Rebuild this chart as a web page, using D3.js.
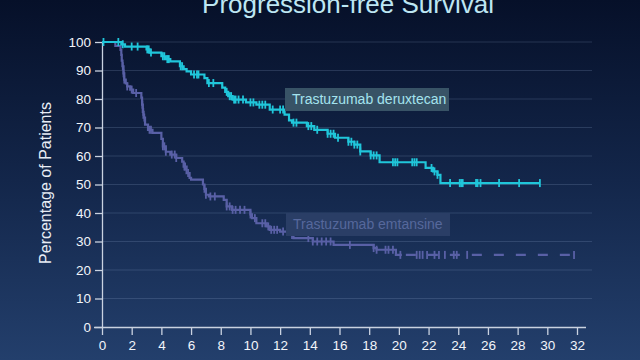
<!DOCTYPE html>
<html>
<head>
<meta charset="utf-8">
<script src="https://cdn.jsdelivr.net/npm/d3@7"></script>
<style>
  html, body { margin: 0; padding: 0; background: #0a1731; }
  svg { display: block; font-family: "Liberation Sans", Arial, Helvetica, sans-serif; }
</style>
</head>
<body>
<div id="chart"></div>
<script>
// Kaplan-Meier steps: [months, % without progression]
const deruxtecanSteps = [
  [0, 100], [1.3, 99.2], [1.55, 98.4], [3.0, 97.4], [3.2, 96.3], [4.0, 95.0], [4.3, 94.0],
  [4.6, 93.2], [5.25, 91.5], [5.5, 90.5], [5.7, 89.7], [6.0, 88.6], [6.9, 87.3], [7.1, 85.6],
  [8.1, 84.0], [8.3, 82.5], [8.5, 81.0], [8.8, 79.8], [9.7, 78.8], [10.4, 78.0], [11.3, 76.3],
  [12.3, 74.5], [12.6, 72.5], [12.8, 71.7], [13.8, 70.5], [14.3, 69.2], [15.2, 67.8],
  [15.7, 66.4], [16.6, 65.0], [17.0, 64.0], [17.4, 61.6], [18.1, 60.2], [18.7, 57.8],
  [21.8, 55.8], [22.3, 54.6], [22.6, 53.4], [22.8, 50.5], [29.5, 50.5]
];
const deruxtecanCensored = [
  0.1, 1.1, 1.4, 2.0, 2.4, 3.05, 3.15, 3.3, 4.1, 4.2, 4.4, 4.5, 5.3, 5.4, 6.2, 6.4, 6.5,
  7.2, 7.5, 8.4, 8.6, 8.7, 8.9, 9.0, 9.2, 9.5, 10.0, 10.2, 10.6, 10.8, 11.0, 11.5, 12.0,
  12.2, 12.9, 13.1, 13.9, 14.1, 14.5, 15.2, 15.4, 15.6, 15.9, 16.6, 16.8, 17.0, 17.2, 17.4,
  18.1, 18.3, 18.5, 19.6, 19.75, 19.9, 20.9, 21.05, 21.2, 22.2, 22.4, 22.6, 23.45, 24.1,
  24.2, 24.3, 25.2, 25.3, 25.5, 26.75, 28.1, 29.5
];

const emtansineSteps = [
  [0, 100], [0.9, 98.6], [1.25, 97.2], [1.3, 95.5], [1.33, 93.5], [1.38, 91.5], [1.45, 89.0],
  [1.5, 86.8], [1.6, 85.5], [1.7, 84.4], [1.9, 83.3], [2.1, 82.1], [2.65, 80.5], [2.7, 78.0],
  [2.75, 75.5], [2.8, 73.5], [2.9, 71.0], [3.1, 69.2], [3.4, 68.1], [4.0, 66.0], [4.1, 63.4],
  [4.3, 61.5], [4.6, 60.5], [5.0, 59.3], [5.4, 58.0], [5.5, 56.3], [5.7, 54.0], [5.9, 52.3],
  [6.0, 51.7], [6.8, 50.0], [6.9, 48.5], [7.0, 46.4], [7.2, 45.8], [8.2, 44.6], [8.4, 42.3],
  [8.75, 41.1], [10.0, 39.5], [10.1, 38.2], [10.4, 36.4], [11.1, 35.3], [11.3, 34.1],
  [12.0, 33.5], [12.55, 32.3], [12.9, 31.2], [14.2, 30.0], [15.6, 28.8], [18.3, 27.7],
  [18.5, 27.1], [19.8, 25.3], [20.2, 25.3]
];
const emtansineTail = [[20.2, 25.3], [31.8, 25.3]];
const emtansineCensored = [
  1.4, 1.45, 1.5, 1.7, 2.0, 2.3, 2.72, 2.78, 2.85, 3.2, 3.3, 4.1, 4.2, 4.3, 4.7, 4.9, 5.0,
  5.55, 5.6, 5.8, 6.9, 7.0, 7.3, 7.6, 8.4, 8.6, 8.8, 9.0, 9.3, 9.6, 10.0, 10.3, 10.8, 11.0,
  11.2, 11.4, 11.6, 11.8, 12.2, 12.5, 12.8, 13.9, 14.2, 14.5, 14.8, 15.1, 15.4, 16.7, 18.3,
  18.5, 19.1, 19.3, 19.6, 20.1, 21.2, 21.4, 21.6, 21.9, 22.4, 22.7, 23.1, 23.7, 23.9, 24.6, 31.8
];

const xTicks = d3.range(0, 33, 2);
const yTicks = d3.range(0, 101, 10);

const width = 640, height = 360;
const svg = d3.select("#chart").append("svg")
  .attr("width", width).attr("height", height);

const defs = svg.append("defs");
const grad = defs.append("linearGradient").attr("id", "bg")
  .attr("x1", 0).attr("y1", 0).attr("x2", 0).attr("y2", 1);
grad.append("stop").attr("offset", "0%").attr("stop-color", "#061029");
grad.append("stop").attr("offset", "50%").attr("stop-color", "#13264a");
grad.append("stop").attr("offset", "100%").attr("stop-color", "#233f6c");
svg.append("rect").attr("width", width).attr("height", height).attr("fill", "url(#bg)");

const x = d3.scaleLinear().domain([0, 32]).range([102, 577]);
const y = d3.scaleLinear().domain([0, 100]).range([327, 42]);

// title, cut by the top edge as in the slide
svg.append("text")
  .attr("x", 348).attr("y", 13)
  .attr("text-anchor", "middle")
  .attr("font-size", 26)
  .attr("fill", "#bde6f3")
  .text("Progression-free Survival");

// grid
svg.append("g").selectAll("line")
  .data(yTicks.filter(d => d > 0))
  .join("line")
  .attr("x1", x(0)).attr("x2", 592)
  .attr("y1", d => y(d)).attr("y2", d => y(d))
  .attr("stroke", "#8fa6c8").attr("stroke-opacity", 0.22).attr("stroke-width", 1);

// axes
const yAxis = svg.append("g")
  .attr("transform", `translate(${x(0)},0)`)
  .call(d3.axisLeft(y).tickValues(yTicks).tickSize(7).tickPadding(4));
const xAxis = svg.append("g")
  .attr("transform", `translate(0,${y(0)})`)
  .call(d3.axisBottom(x).tickValues(xTicks).tickSize(8).tickPadding(5));
xAxis.select(".domain").attr("d", `M${x(0) - 8},0.5H586`);
yAxis.select(".domain").attr("d", `M0.5,${y(100)}V${y(0)}`);
[xAxis, yAxis].forEach(a => {
  a.selectAll(".domain, .tick line").attr("stroke", "#c9d2e0").attr("stroke-width", 1.3);
  a.selectAll("text").attr("fill", "#f2f5fa").attr("font-size", 13.5)
    .attr("font-family", "'Liberation Sans', Arial, sans-serif");
});

svg.append("text")
  .attr("transform", `translate(51,183) rotate(-90)`)
  .attr("text-anchor", "middle")
  .attr("font-size", 16)
  .attr("fill", "#e8edf5")
  .text("Percentage of Patients");

const step = d3.line().x(d => x(d[0])).y(d => y(d[1])).curve(d3.curveStepAfter);
function valueAt(steps, t) {
  let v = steps[0][1];
  for (const s of steps) if (s[0] <= t) v = s[1];
  return v;
}

function drawCurve(steps, censored, color, tail) {
  const g = svg.append("g");
  g.append("path").datum(steps).attr("d", step)
    .attr("fill", "none").attr("stroke", color).attr("stroke-width", 2.2);
  if (tail) {
    g.append("path").datum(tail).attr("d", step)
      .attr("fill", "none").attr("stroke", color).attr("stroke-width", 2.2)
      .attr("stroke-dasharray", "10,12").attr("stroke-dashoffset", -4);
  }
  const all = tail ? steps.concat(tail.slice(1)) : steps;
  g.selectAll(".c").data(censored).join("line")
    .attr("x1", d => x(d)).attr("x2", d => x(d))
    .attr("y1", d => y(valueAt(all, d)) - 4).attr("y2", d => y(valueAt(all, d)) + 4)
    .attr("stroke", color).attr("stroke-width", 1.8);
}

drawCurve(emtansineSteps, emtansineCensored, "#5960a6", emtansineTail);
drawCurve(deruxtecanSteps, deruxtecanCensored, "#20c6da");

// labels
function label(bx, by, w, h, fill, color, txt) {
  svg.append("rect").attr("x", bx).attr("y", by).attr("width", w).attr("height", h)
    .attr("fill", fill);
  svg.append("text").attr("x", bx + 7).attr("y", by + 16)
    .attr("font-size", 14).attr("fill", color).text(txt);
}
label(285, 88, 164, 23, "#385366", "#a4e3ee", "Trastuzumab deruxtecan");
label(286, 213, 164, 23, "#2a3e66", "#56689c", "Trastuzumab emtansine");
</script>
</body>
</html>
